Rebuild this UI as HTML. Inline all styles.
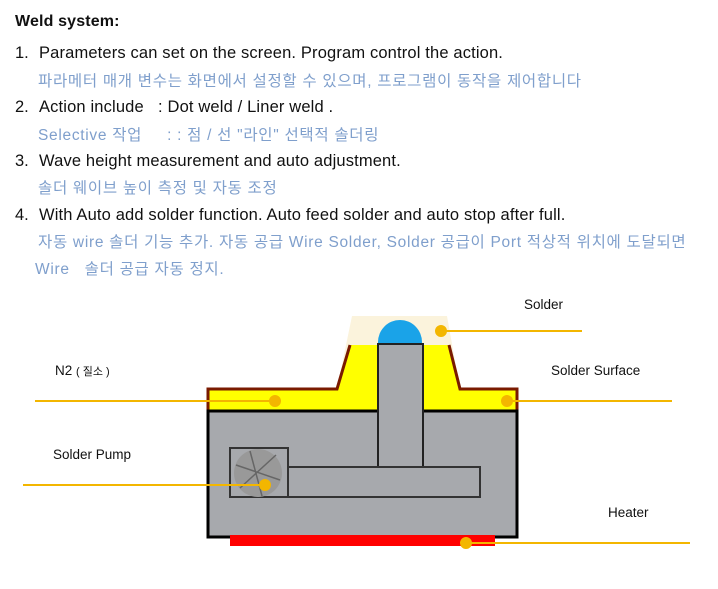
<!DOCTYPE html>
<html><head><meta charset="utf-8"><style>
body{margin:0;width:718px;height:589px;background:#fff;position:relative;overflow:hidden;font-family:"Liberation Sans","Noto Sans CJK KR",sans-serif}
.t{position:absolute;white-space:nowrap;color:#111;font-size:16.5px;line-height:18px;letter-spacing:0.15px}
.n{position:absolute;left:15px;color:#111;font-size:16.5px;line-height:18px}
.k{position:absolute;white-space:nowrap;color:#7f9fcc;font-size:15.5px;line-height:18px;letter-spacing:0.7px}
.l{position:absolute;white-space:nowrap;font-size:13.5px;color:#111}
</style></head><body>
<div class="t" style="left:15px;top:13px;font-weight:bold;font-size:16px">Weld system:</div>
<div class="n" style="top:44px">1.</div><div class="t" style="left:39px;top:44px">Parameters can set on the screen. Program control the action.</div>
<div class="k" style="left:38px;top:73px">파라메터 매개 변수는 화면에서 설정할 수 있으며, 프로그램이 동작을 제어합니다</div>
<div class="n" style="top:98px">2.</div><div class="t" style="left:39px;top:98px">Action include &nbsp;&nbsp;: Dot weld / Liner weld .</div>
<div class="k" style="left:38px;top:127px">Selective 작업 &nbsp;&nbsp;&nbsp;&nbsp;: : 점 / 선 "라인" 선택적 솔더링</div>
<div class="n" style="top:152px">3.</div><div class="t" style="left:39px;top:152px">Wave height measurement and auto adjustment.</div>
<div class="k" style="left:38px;top:180px">솔더 웨이브 높이 측정 및 자동 조정</div>
<div class="n" style="top:206px">4.</div><div class="t" style="left:39px;top:206px">With Auto add solder function. Auto feed solder and auto stop after full.</div>
<div class="k" style="left:38px;top:234px">자동 wire 솔더 기능 추가. 자동 공급 Wire Solder, Solder 공급이 Port 적상적 위치에 도달되면</div>
<div class="k" style="left:35px;top:261px">Wire &nbsp;&nbsp;솔더 공급 자동 정지.</div>
<svg width="718" height="589" style="position:absolute;left:0;top:0">
<polygon points="352,316 447,316 460,389 337,389" fill="#fbf3dc"/>
<path d="M400,320 a22,22 0 0 1 22,22 v3 h-44 v-3 a22,22 0 0 1 22,-22z" fill="#1aa3e8"/>
<polygon points="350,345 449,345 460,389 517,389 517,411 208,411 208,389 337,389" fill="#ffff00"/>
<path d="M350,345 L337,389 H208 V411 M449,345 L460,389 H517 V411" fill="none" stroke="#7a1a00" stroke-width="3"/>
<rect x="208" y="411" width="309" height="126" fill="#a7a9ad" stroke="#000" stroke-width="3"/>
<rect x="378" y="344" width="45" height="123" fill="#a7a9ad" stroke="#222" stroke-width="2"/>
<rect x="288" y="467" width="192" height="30" fill="#a7a9ad" stroke="#333" stroke-width="2"/>
<rect x="230" y="448" width="58" height="49" fill="#a7a9ad" stroke="#333" stroke-width="2"/>
<circle cx="258" cy="473" r="24" fill="#999"/>
<path d="M236,465 L280,480 M250,451 L262,496 M240,488 L276,455" stroke="#666" stroke-width="1.5"/>
<rect x="230" y="535" width="265" height="11" fill="#ff0000"/>
<g stroke="#f3b600" stroke-width="2" fill="#f3b600">
<line x1="438" y1="331" x2="582" y2="331"/><circle cx="441" cy="331" r="5"/>
<line x1="35" y1="401" x2="275" y2="401"/><circle cx="275" cy="401" r="5"/>
<line x1="507" y1="401" x2="672" y2="401"/><circle cx="507" cy="401" r="5"/>
<line x1="23" y1="485" x2="265" y2="485"/><circle cx="265" cy="485" r="5"/>
<line x1="466" y1="543" x2="690" y2="543"/><circle cx="466" cy="543" r="5"/>
</g>
</svg>
<div class="l" style="left:524px;top:297px">Solder</div>
<div class="l" style="left:55px;top:363px">N2 <span style="font-size:11px">( 질소 )</span></div>
<div class="l" style="left:551px;top:363px">Solder Surface</div>
<div class="l" style="left:53px;top:447px">Solder Pump</div>
<div class="l" style="left:608px;top:505px">Heater</div>
</body></html>
